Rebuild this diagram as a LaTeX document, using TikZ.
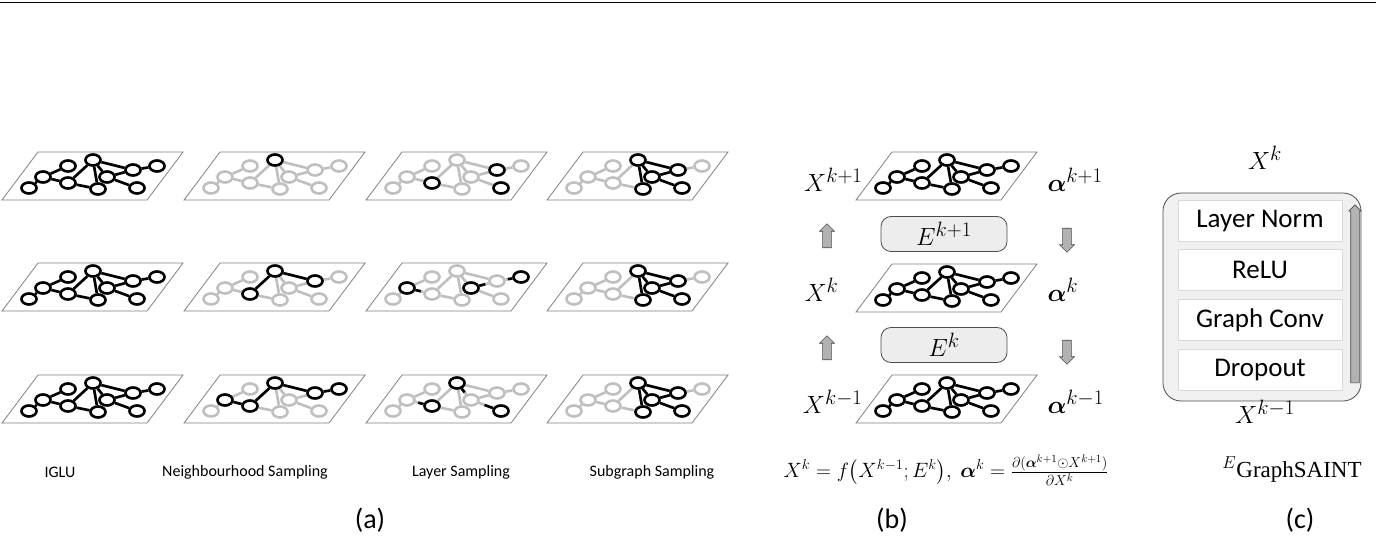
\documentclass[tikz,border=0pt]{standalone}
\usepackage{amsmath,bm}
\usepackage[no-math]{fontspec}
\setmainfont{Carlito}
\newfontfamily\serifcam{Liberation Serif}
\usetikzlibrary{calc,shapes.arrows,shapes.geometric}
\begin{document}
\begin{tikzpicture}[x=1pt,y=-1pt,
  gn/.style={ellipse,draw=black!25,line width=2.6pt,fill=white,minimum width=15pt,minimum height=11pt,inner sep=0pt},
  bn/.style={ellipse,draw=black,line width=2.6pt,fill=white,minimum width=15pt,minimum height=11pt,inner sep=0pt},
  ge/.style={draw=black!25,line width=2.6pt},
  be/.style={draw=black,line width=2.6pt},
  plane/.style={draw=black!50,line width=0.8pt,fill=white},
  lab/.style={font=\fontsize{16}{18}\selectfont},
  captext/.style={font=\fontsize{28}{32}\selectfont},
  mth/.style={font=\fontsize{28}{32}\selectfont},
  barrow/.style={single arrow,draw=black!70,fill=black!30,line width=0.6pt,minimum height=24pt,minimum width=15pt,single arrow head extend=3pt,inner sep=4pt,single arrow tip angle=90},
  ebox/.style={draw=black!70,fill=black!7,rounded corners=10pt,minimum width=126pt,minimum height=35pt,line width=0.8pt},
  layer/.style={draw=black!15,fill=white,minimum width=164pt,minimum height=41pt,font=\fontsize{27}{30}\selectfont,line width=0.8pt}]
\useasboundingbox (0,0) rectangle (1376,548);
\draw[line width=0.8pt] (0,2) -- (1376,2);
\newcommand{\gpanel}[4]{%
\begin{scope}[shift={(#2,#3)}]
\draw[plane] (0,0) -- (145,0) -- (181,-48) -- (36,-48) -- cycle;
\node[gn] (#1-1) at (27,-12) {}; \node[gn] (#1-2) at (41,-23) {};
\node[gn] (#1-3) at (66,-34) {}; \node[gn] (#1-4) at (66,-17) {};
\node[gn] (#1-5) at (91,-40) {}; \node[gn] (#1-6) at (96,-11) {};
\node[gn] (#1-7) at (105,-23) {}; \node[gn] (#1-8) at (131,-30) {};
\node[gn] (#1-9) at (155,-34) {}; \node[gn] (#1-10) at (135,-12) {};
\foreach \a/\b in {1/2,2/3,2/4,4/5,4/6,5/6,5/7,5/8,7/8,7/10,8/9}
  \draw[ge] (#1-\a) -- (#1-\b);
\end{scope}
#4}
\newcommand{\bnodes}[2]{\foreach \i in {#2} \node[bn] at (#1-\i) {};}
\newcommand{\bedges}[2]{\foreach \a/\b in {#2} \draw[be] (#1-\a) -- (#1-\b);}
\newcommand{\fullblack}[1]{\bedges{#1}{1/2,2/3,2/4,4/5,4/6,5/6,5/7,5/8,7/8,7/10,8/9}\bnodes{#1}{1,2,3,4,5,6,7,8,9,10}}
\newcommand{\half}[3]{\draw[be] (#1-#2) -- ($(#1-#2)!0.55!(#1-#3)$);}
% IGLU
\gpanel{a1}{2}{200}{\fullblack{a1}}
\gpanel{a2}{2}{311}{\fullblack{a2}}
\gpanel{a3}{2}{423}{\fullblack{a3}}
% Neighbourhood
\gpanel{n1}{184}{200}{\bnodes{n1}{5}}
\gpanel{n2}{184}{311}{\bedges{n2}{4/5,5/8}\bnodes{n2}{4,5,8}}
\gpanel{n3}{184}{423}{\bedges{n3}{2/4,4/5,5/8,8/9}\bnodes{n3}{2,4,5,8,9}}
% Layer
\gpanel{l1}{366}{200}{\bnodes{l1}{4,8,10}}
\gpanel{l2}{366}{311}{\half{l2}{2}{4}\half{l2}{7}{8}\half{l2}{9}{8}\bnodes{l2}{2,7,9}}
\gpanel{l3}{366}{423}{\half{l3}{4}{2}\half{l3}{5}{7}\half{l3}{10}{7}\bnodes{l3}{4,5,10}}
% Subgraph
\gpanel{s1}{547}{200}{\bedges{s1}{5/6,5/7,5/8,7/8,7/10}\bnodes{s1}{5,6,7,8,10}}
\gpanel{s2}{547}{311}{\bedges{s2}{5/6,5/7,5/8,7/8,7/10}\bnodes{s2}{5,6,7,8,10}}
\gpanel{s3}{547}{423}{\bedges{s3}{5/6,5/7,5/8,7/8,7/10}\bnodes{s3}{5,6,7,8,10}}
% panel b
\gpanel{b1}{856}{200}{\fullblack{b1}}
\gpanel{b2}{856}{312}{\fullblack{b2}}
\gpanel{b3}{856}{423}{\fullblack{b3}}
\node[lab] (t1) at (60,472) {IGLU};
\node[lab] (t2) at (245,472) {Neighbourhood Sampling};
\node[lab] (t3) at (461,472) {Layer Sampling};
\node[lab] (t4) at (652,472) {Subgraph Sampling};
\node[captext] (ca) at (370,520) {(a)};
\node[captext] (cb) at (892,520) {(b)};
\node[captext] (cc) at (1300,520) {(c)};
\node[mth,anchor=east] (x1) at (866,180) {$X^{k+1}$};
\node[mth,anchor=east] (x2) at (842,290) {$X^{k}$};
\node[mth,anchor=east] (x3) at (866,402) {$X^{k-1}$};
\node[mth,anchor=west] (al1) at (1044,180) {$\bm{\alpha}^{k+1}$};
\node[mth,anchor=west] (al2) at (1044,290) {$\bm{\alpha}^{k}$};
\node[mth,anchor=west] (al3) at (1044,402) {$\bm{\alpha}^{k-1}$};
\node[barrow,rotate=90] (u1) at (827,238) {};
\node[barrow,rotate=90] (u2) at (827,350) {};
\node[barrow,rotate=-90] (d1) at (1067,238) {};
\node[barrow,rotate=-90] (d2) at (1067,350) {};
\node[ebox,mth] (e1) at (944,234) {$E^{k+1}$};
\node[ebox,mth] (e2) at (944,345) {$E^{k}$};
\node[font=\fontsize{22}{26}\selectfont] (fb) at (946,470) {$X^k=f\big(X^{k-1};E^k\big),\ \bm{\alpha}^k=\frac{\partial(\bm{\alpha}^{k+1}\odot X^{k+1})}{\partial X^k}$};
% panel c
\node[draw=black!70,fill=black!6,rounded corners=18pt,minimum width=198pt,minimum height=208pt,line width=0.8pt] (cbox) at (1262,297) {};
\node[layer] (ln) at (1260,221) {Layer Norm};
\node[layer] (re) at (1260,270) {ReLU};
\node[layer] (gc) at (1260,320) {Graph Conv};
\node[layer] (dr) at (1260,370) {Dropout};
\node[single arrow,draw=black!70,fill=black!30,line width=0.6pt,rotate=90,minimum height=178pt,minimum width=12pt,single arrow head extend=2pt,single arrow tip angle=90,inner sep=4pt] (ca2) at (1355,296) {};
\node[mth] (xk) at (1265,158) {$X^{k}$};
\node[mth] (xk1) at (1265,412) {$X^{k-1}$};
\node[font=\fontsize{23}{27}\selectfont] (gs) at (1292,470) {$^{E}${\serifcam GraphSAINT}};
\end{tikzpicture}
\end{document}
